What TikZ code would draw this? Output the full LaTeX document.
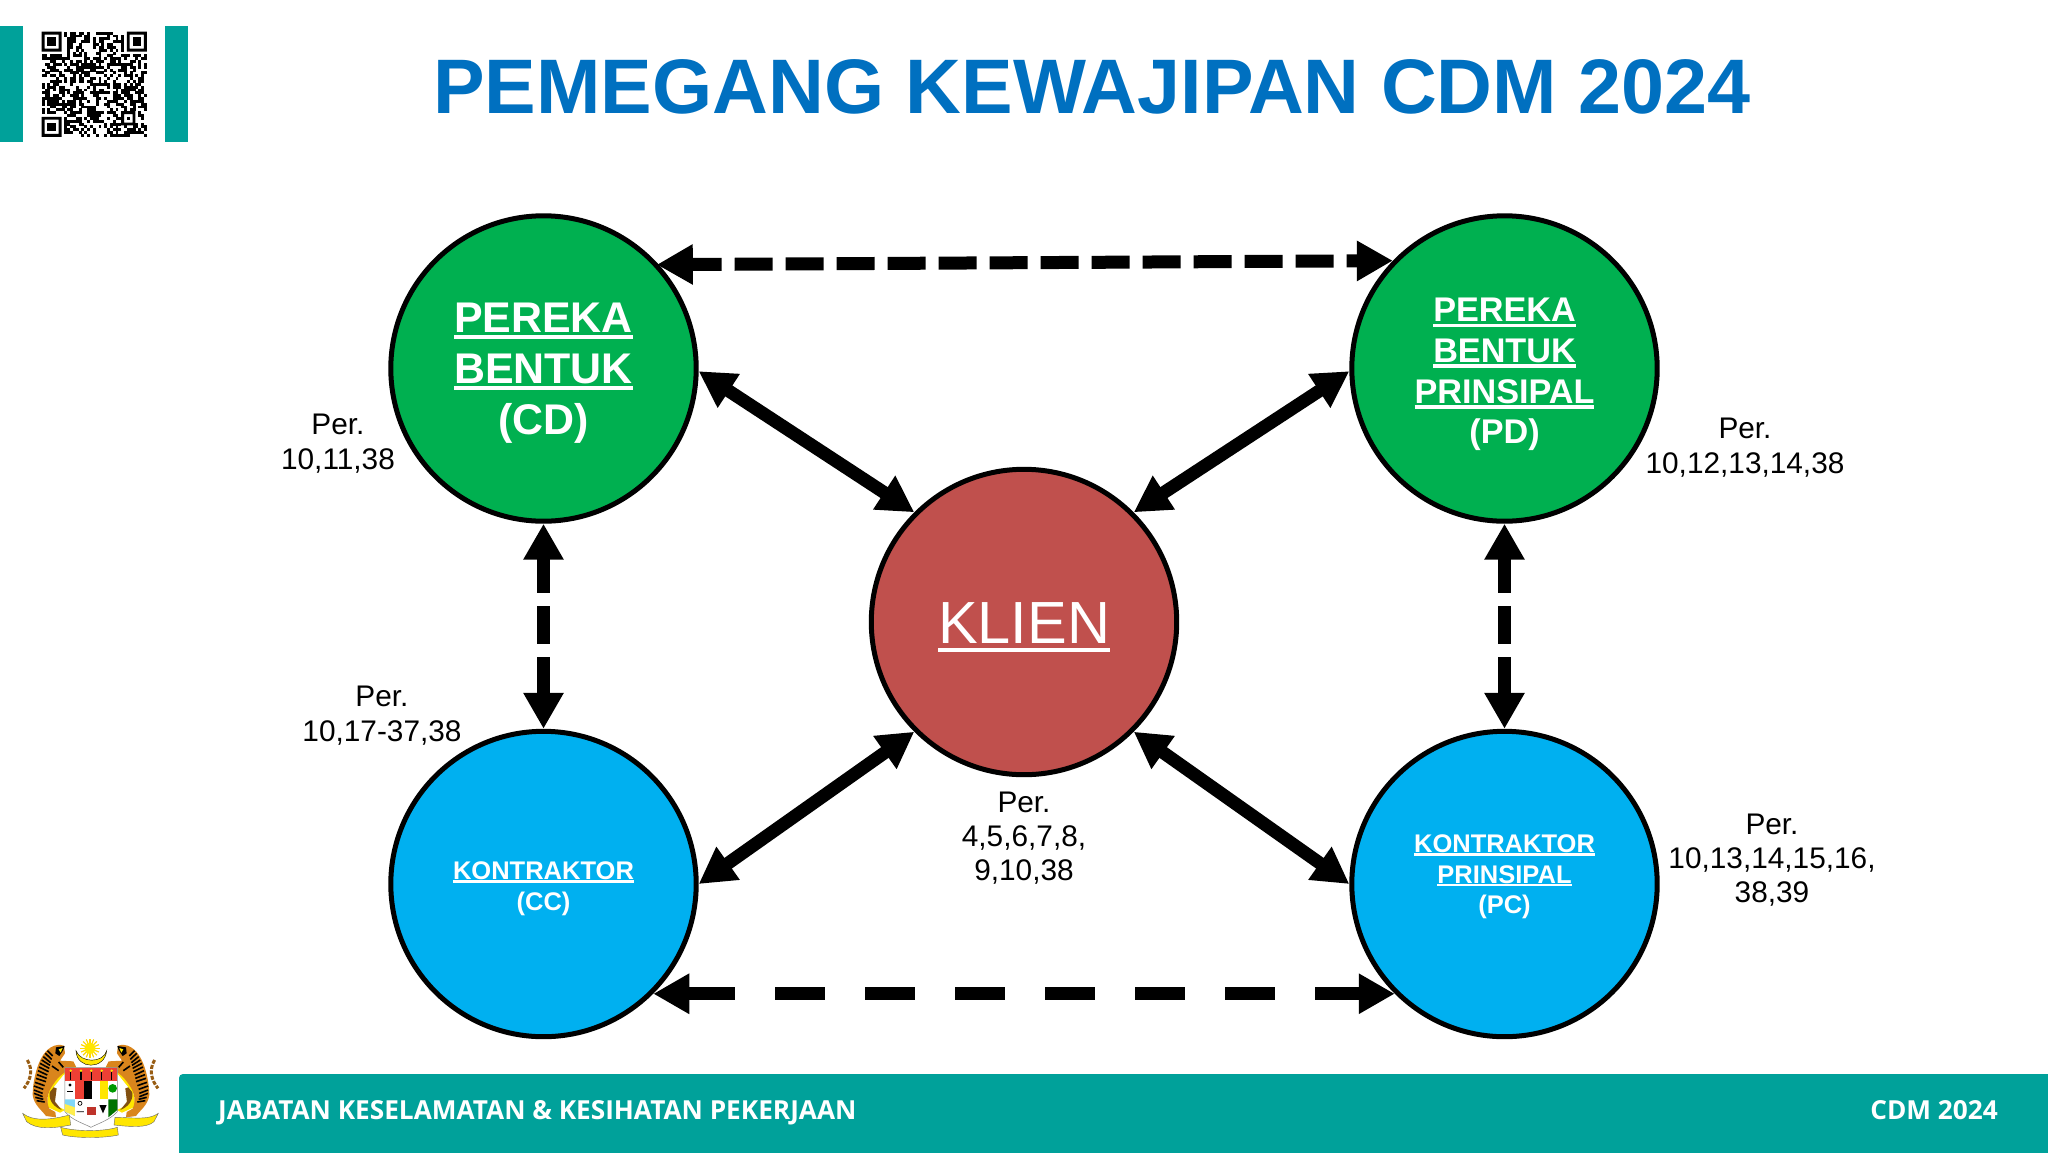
\documentclass[tikz,border=0pt]{standalone}
\usepackage{fontspec}
\setmainfont{Liberation Sans}
\newfontfamily\footfont{Open Sans}
\usetikzlibrary{arrows.meta}
\definecolor{teal1}{HTML}{00A19A}
\definecolor{titleblue}{HTML}{0070C0}
\definecolor{greenc}{HTML}{00B050}
\definecolor{bluec}{HTML}{00B0F0}
\definecolor{redc}{HTML}{C0504D}
\definecolor{tigero}{HTML}{D9851C}
\definecolor{crestred}{HTML}{EE4035}
\definecolor{crestyel}{HTML}{FFE600}
\newcommand{\myul}[3]{{\setbox0=\hbox{#3}\hbox{\copy0\kern-\wd0\smash{\raise-#1\hbox{\vrule width\wd0 height #2 depth 0pt}}}}}
\newcommand{\tigerpic}{%
  \draw[line width=3pt,tigero!70!black,dash pattern=on 4pt off 1.5pt] (52,90) .. controls (70,120) and (62,150) .. (42,175);
  \fill[crestyel] (118,170) -- (110,230) -- (150,248) -- (165,240) -- (135,225) -- (135,175) -- cycle;
  \fill[tigero!60!black] (125,170) .. controls (112,195) and (118,225) .. (155,240) -- (135,215) -- (140,175) -- cycle;
  \fill[crestyel] (178,100) -- (200,112) -- (160,135) -- (120,185) -- (105,170) -- cycle;
  \fill[tigero] (162,47) .. controls (135,38) and (108,55) .. (92,88)
     .. controls (78,115) and (68,160) .. (68,195)
     .. controls (72,225) and (95,240) .. (108,258)
     -- (138,262) -- (136,246) -- (118,236)
     .. controls (108,215) and (112,190) .. (125,170)
     .. controls (138,150) and (155,125) .. (198,110)
     -- (190,94) -- (150,92) -- (165,70) -- cycle;
  \foreach \a/\b/\c/\d in {112/62/128/78, 106/70/125/88, 100/80/122/98, 95/90/120/106, 90/100/118/115, 87/111/116/125, 84/122/112/135, 81/134/110/145, 78/145/108/155, 75/157/104/167, 72/168/100/178, 72/180/98/190, 72/190/98/200, 76/202/100/208, 80/212/104/216, 126/108/146/122, 146/96/160/112}
    \draw[black,line width=1.6pt] (\a,\b) -- (\c,\d);
  \fill[black] (138,52) -- (164,48) -- (160,60) -- (148,78) -- (136,70) -- cycle;
  \fill[crestyel] (146,58) -- (158,54) -- (152,68) -- cycle;
}
\begin{document}
\begin{tikzpicture}[x=1pt,y=-1pt,
  person/.style={circle,draw=black,line width=5pt,minimum size=305.4pt,inner sep=0pt},
  intext/.style={text=white,align=center,inner sep=0pt},
  pertext/.style={font=\fontsize{29.8}{34.3}\selectfont,align=center,text=black,inner sep=0pt},
  both/.style={line width=13pt,{Triangle[length=36pt,width=38pt]}-{Triangle[length=36pt,width=38pt]}},
  dashtop/.style={both,dash pattern=on 38pt off 13pt,dash phase=7pt},
  dashbot/.style={both,dash pattern=on 50pt off 40pt,dash phase=2pt},
  dashv/.style={both,dash pattern=on 38pt off 13pt,dash phase=2pt},
  foottext/.style={text=white,font=\footfont\bfseries\fontsize{26.2}{30}\selectfont,inner sep=0pt}]
\useasboundingbox (0,0) rectangle (2048,1152);
\fill[white] (0,0) rectangle (2048,1152);
% top bars
\fill[teal1] (0,26) rectangle (23,142);
\fill[teal1] (165,26) rectangle (188,142);
% QR pattern
\begin{scope}[shift={(41.7,31.7)},x=2.84pt,y=-2.84pt]
  \pgfmathsetseed{2024}
  \foreach \i in {0,...,36}{
    \foreach \j in {0,...,36}{
      \pgfmathparse{(\i<8&&\j<8)||(\i>28&&\j<8)||(\i<8&&\j>28)||(\i>27&&\i<33&&\j>27&&\j<33)?0:(rnd<0.52?1:0)}
      \ifnum\pgfmathresult=1
        \fill[black] (\i,\j) rectangle ++(1.03,1.03);
      \fi
    }
  }
  \foreach \ox/\oy in {0/0,30/0,0/30}{
    \fill[black,even odd rule] (\ox,\oy) rectangle ++(7,7) (\ox+1,\oy+1) rectangle ++(5,5);
    \fill[black] (\ox+2,\oy+2) rectangle ++(3,3);
  }
  \fill[black,even odd rule] (28,28) rectangle ++(5,5) (29,29) rectangle ++(3,3);
  \fill[black] (30,30) rectangle ++(1,1);
\end{scope}
% title
\node[text=titleblue,font=\bfseries\fontsize{77.3}{90}\selectfont,inner sep=0pt] (title) at (1092,87) {PEMEGANG KEWAJIPAN CDM 2024};
% circles
\node[person,fill=greenc] (cd) at (543.5,368.5) {};
\node[person,fill=greenc] (pd) at (1504.5,368.5) {};
\node[person,fill=redc] (kl) at (1024,622) {};
\node[person,fill=bluec] (cc) at (543.5,884) {};
\node[person,fill=bluec] (pc) at (1504.5,884) {};
% circle texts
\node[intext,font=\bfseries\fontsize{42.9}{51}\selectfont] (tcd) at (543.5,373.5)
  {\myul{6pt}{4pt}{PEREKA}\\\myul{6pt}{4pt}{BENTUK}\\(CD)};
\node[intext,font=\bfseries\fontsize{34.2}{40.7}\selectfont] (tpd) at (1504.5,374.5)
  {\myul{5.5pt}{3.5pt}{PEREKA}\\\myul{5.5pt}{3.5pt}{BENTUK}\\\myul{5.5pt}{3.5pt}{PRINSIPAL}\\(PD)};
\node[intext,font=\fontsize{59.5}{68}\selectfont] (tkl) at (1024,623.5)
  {\myul{8pt}{3.5pt}{KLIEN}};
\node[intext,font=\bfseries\fontsize{25.5}{31}\selectfont] (tcc) at (543.5,889)
  {\myul{3pt}{2.5pt}{KONTRAKTOR}\\(CC)};
\node[intext,font=\bfseries\fontsize{25.5}{30.5}\selectfont] (tpc) at (1504.5,877)
  {\myul{3pt}{2.5pt}{KONTRAKTOR}\\\myul{3pt}{2.5pt}{PRINSIPAL}\\(PC)};
% connectors
\draw[dashtop,shorten <=-2pt] (cd.42) -- (pd.136);
\draw[dashbot] (cc.-45) -- (pc.225);
\draw[dashv] (cd.270) -- (cc.90);
\draw[dashv] (pd.270) -- (pc.90);
\draw[both] (cd.-1) -- (kl.135);
\draw[both] (pd.181) -- (kl.45);
\draw[both] (cc.0) -- (kl.225);
\draw[both] (pc.180) -- (kl.-45);
% labels
\node[pertext] (lcd) at (338,443.6) {Per.\\10,11,38};
\node[pertext] (lcc) at (382,715.6) {Per.\\10,17-37,38};
\node[pertext] (lpd) at (1745,447.6) {Per.\\10,12,13,14,38};
\node[pertext] (lkl) at (1024,838) {Per.\\4,5,6,7,8,\\9,10,38};
\node[pertext] (lpc) at (1772,860) {Per.\\10,13,14,15,16,\\38,39};
% footer
\fill[teal1,rounded corners=4pt] (179,1160) -- (179,1074) -- (2060,1074) -- (2060,1160) -- cycle;
\node[foottext,anchor=base west] (f1) at (218,1119.5) {JABATAN KESELAMATAN \& KESIHATAN PEKERJAAN};
\node[foottext,anchor=base east] (f2) at (1998,1119.5) {CDM 2024};
% crest
\begin{scope}[shift={(10,1030)},x=0.3333pt,y=-0.3333pt]
  % sun and crescent
  \fill[crestyel,draw=black,line width=0.4pt] (198,62) .. controls (200,120) and (285,120) .. (290,62)
     .. controls (280,100) and (212,100) .. (198,62) -- cycle;
  \foreach \a in {0,22.5,...,337.5}
    \draw[crestyel!85!orange,line width=1.2pt] (240,55) -- ++(\a:29);
  \fill[crestyel] (240,55) circle[radius=17];
  \tigerpic
  \begin{scope}[shift={(486,0)},xscale=-1]
    \tigerpic
  \end{scope}
  % shield
  \fill[white,draw=black!50,line width=0.5pt] (165,113) -- (322,113) -- (322,245) .. controls (300,270) and (265,280) .. (243,292) .. controls (220,280) and (185,270) .. (165,245) -- cycle;
  \fill[crestred] (165,113) rectangle (322,152);
  \foreach \x in {182,213,244,275,305}{
    \fill[black] (\x-2,122) rectangle (\x+2,150);
    \fill[crestyel] (\x,122) circle[radius=4];
  }
  \fill[crestred] (195,152) rectangle (222,208);
  \fill[black] (222,152) rectangle (245,208);
  \fill[crestyel] (270,152) rectangle (295,208);
  \fill[black] (180,165) circle[radius=5];
  \draw[black,line width=0.8pt] (172,185) -- (188,185);
  \fill[green!45!black] (295,208) -- (322,208) -- (322,240) -- (295,262) -- cycle;
  \fill[green!60!black] (308,175) circle[radius=13];
  \fill[cyan!50!white] (165,208) -- (195,208) -- (195,258) -- (165,245) -- cycle;
  \fill[crestyel!70!white] (165,222) -- (195,232) -- (195,258) -- (165,245) -- cycle;
  \fill[crestred!80!black] (232,232) rectangle (258,255);
  \draw[black,line width=0.7pt] (210,220) circle[radius=6] (200,245) -- (222,245);
  \fill[black] (268,225) -- (290,225) -- (279,250) -- cycle;
  % ribbons
  \fill[crestyel,draw=black!60,line width=0.4pt] (38,250) .. controls (70,275) and (120,270) .. (178,255) -- (182,285) .. controls (130,295) and (80,300) .. (50,275) -- cycle;
  \fill[crestyel,draw=black!60,line width=0.4pt] (445,250) .. controls (415,272) and (365,262) .. (315,262) -- (312,285) .. controls (360,290) and (410,295) .. (432,275) -- cycle;
  \fill[crestyel,draw=black!60,line width=0.4pt] (152,292) .. controls (200,305) and (280,305) .. (322,292) -- (325,315) .. controls (280,325) and (200,325) .. (158,315) -- cycle;
\end{scope}
\end{tikzpicture}
\end{document}
